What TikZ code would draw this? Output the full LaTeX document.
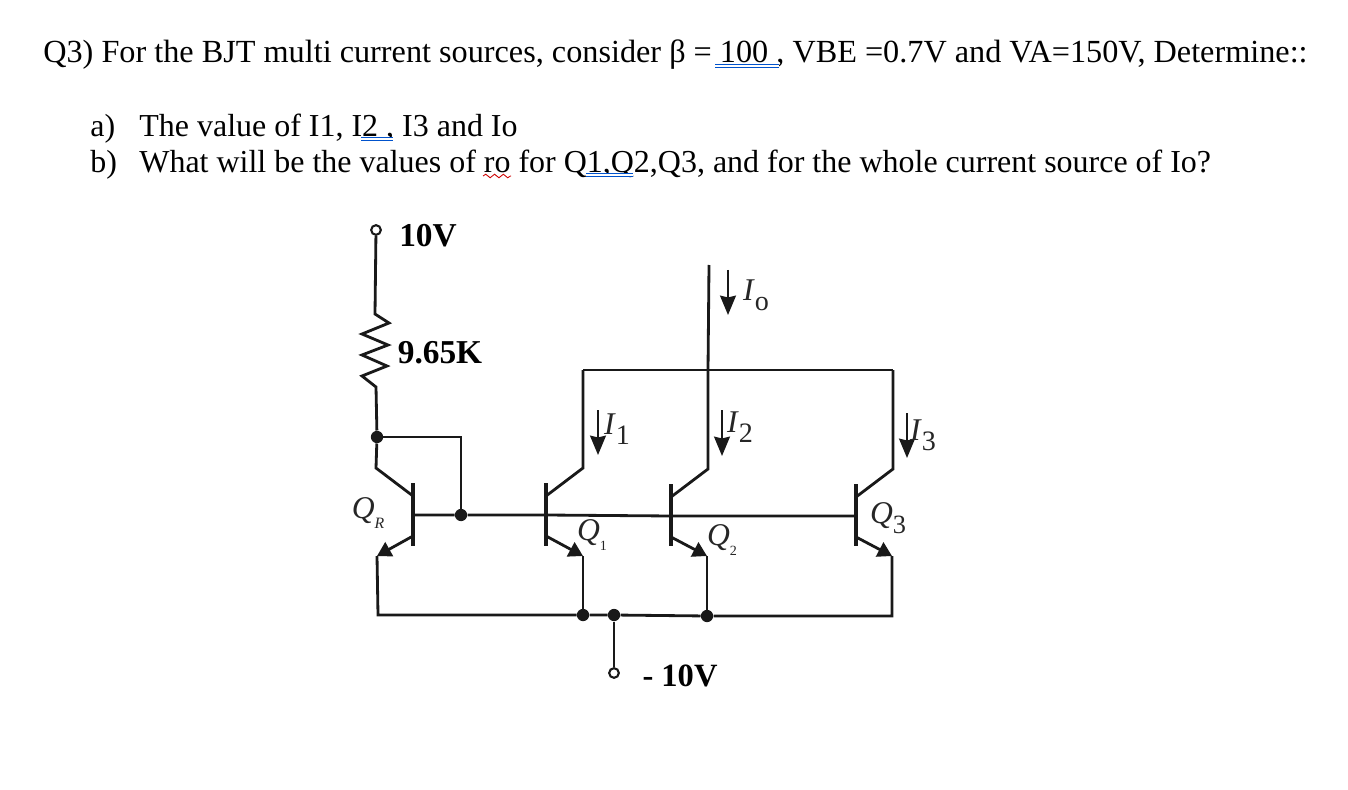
\documentclass[tikz,border=0pt]{standalone}
\usepackage{fontspec}
\setmainfont{Liberation Serif}
\usepackage{tikz}
\usetikzlibrary{arrows.meta, decorations.pathmorphing}
\tikzstyle{textline} = [anchor=base west, inner sep=0pt, font=\fontsize{18.2}{22}\selectfont]
\tikzstyle{valuelabel} = [inner sep=0pt, font=\fontsize{19}{22}\selectfont\bfseries]
\tikzstyle{curlabel} = [inner sep=0pt, font=\fontsize{18}{22}\selectfont, text=black!85]
\tikzstyle{dot} = [circle, fill=black!90, inner sep=0pt, minimum size=7pt]
\tikzstyle{term} = [circle, draw=black!90, fill=white, line width=1.2pt, inner sep=0pt, minimum size=5.5pt]
\tikzstyle{wire} = [line width=1.6pt, black!90, line join=miter]
\tikzstyle{bar} = [line width=2.2pt, black!90]
\tikzstyle{emitter} = [wire, -{Triangle[length=8pt,width=9pt]}]
\tikzstyle{arrow} = [line width=1.3pt, black!90, -{Stealth[length=11pt,width=9pt,inset=1pt]}]
\tikzstyle{proof} = [line width=0.6pt, blue!60!cyan!80!black, double, double distance=1pt]
\newcommand{\curname}[3]{\textit{#1}\raisebox{-0.7ex}{\fontsize{#3}{#3}\selectfont #2}}

\begin{document}
\begin{tikzpicture}[x=0.02cm, y=-0.02cm]
    \useasboundingbox (0,0) rectangle (1348,790);
    % Text
    \node (line_q) [textline, font=\fontsize{18.35}{22}\selectfont] at (43,63) {Q3) For the BJT multi current sources, consider β = 100 , VBE =0.7V and VA=150V, Determine::};
    \node (mark_a) [textline] at (90,137) {a)};
    \node (line_a) [textline] at (139,137) {The value of I1, I2 , I3 and Io};
    \node (mark_b) [textline] at (90,173) {b)};
    \node (line_b) [textline] at (139,173) {What will be the values of ro for Q1,Q2,Q3, and for the whole current source of Io?};
    % Proofing marks
    \draw [proof] (715,66) -- (779,66);
    \draw [proof] (361,139) -- (393,139);
    \draw [proof] (586,175) -- (633,175);
    \draw [red!80!black, line width=0.5pt, decorate, decoration={snake, amplitude=1pt, segment length=5pt}] (483,176) -- (511,176);
    % Nodes
    \node (top) [term] at (376,230) {};
    \node (res_top) [coordinate] at (375,314) {};
    \node (res_bot) [coordinate] at (376,387) {};
    \node (node_r) [dot] at (377,437) {};
    \node (link) [dot] at (461,515) {};
    \node (coll_r) [coordinate] at (376,468) {};
    \node (emit_r) [coordinate] at (377,556) {};
    \node (coll_1) [coordinate] at (583,468) {};
    \node (emit_1) [coordinate] at (583,556) {};
    \node (coll_2) [coordinate] at (708,469) {};
    \node (emit_2) [coordinate] at (707,556) {};
    \node (coll_3) [coordinate] at (893,469) {};
    \node (emit_3) [coordinate] at (892,556) {};
    \node (rail_1) [coordinate] at (583,370) {};
    \node (rail_2) [coordinate] at (708,370) {};
    \node (rail_3) [coordinate] at (893,370) {};
    \node (out) [coordinate] at (709,265) {};
    \node (gnd_r) [coordinate] at (378,615) {};
    \node (gnd_1) [dot] at (583,615) {};
    \node (gnd_m) [dot] at (614,615) {};
    \node (gnd_2) [dot] at (707,616) {};
    \node (gnd_3) [coordinate] at (892,616) {};
    \node (bottom) [term] at (614,673) {};
    % Transistor bars
    \node (bar_r) [coordinate] at (413,515) {};
    \node (bar_1) [coordinate] at (546,515) {};
    \node (bar_2) [coordinate] at (671,516) {};
    \node (bar_3) [coordinate] at (856,516) {};
    \draw [bar] ([yshift=0.64cm]bar_r) -- ([yshift=-0.62cm]bar_r);
    \draw [bar] ([yshift=0.64cm]bar_1) -- ([yshift=-0.62cm]bar_1);
    \draw [bar] ([yshift=0.64cm]bar_2) -- ([yshift=-0.6cm]bar_2);
    \draw [bar] ([yshift=0.64cm]bar_3) -- ([yshift=-0.6cm]bar_3);
    % Wires
    \draw [wire] (top) -- (res_top) -- (389,323) -- (362,334) -- (388,345) -- (362,355) -- (387,366) -- (362,376) -- (res_bot) -- (node_r);
    \draw [wire] (node_r) -- (coll_r) -- ([yshift=0.38cm]bar_r);
    \draw [wire] (node_r.center) -| (link.center);
    \draw [wire] (bar_r) -- (link) -- (bar_1) -- (bar_2) -- (bar_3);
    \draw [wire] (rail_1) -- (rail_2) -- (rail_3);
    \draw [wire] (out) -- (rail_2) -- (coll_2) -- ([yshift=0.38cm]bar_2);
    \draw [wire] (rail_1) -- (coll_1) -- ([yshift=0.38cm]bar_1);
    \draw [wire] (rail_3) -- (coll_3) -- ([yshift=0.38cm]bar_3);
    \draw [emitter] ([yshift=-0.42cm]bar_r) -- (emit_r);
    \draw [emitter] ([yshift=-0.42cm]bar_1) -- (emit_1);
    \draw [emitter] ([yshift=-0.42cm]bar_2) -- (emit_2);
    \draw [emitter] ([yshift=-0.42cm]bar_3) -- (emit_3);
    \draw [wire] (emit_r) -- (gnd_r) -- (gnd_1) -- (gnd_m) -- (gnd_2) -- (gnd_3) -- (emit_3);
    \draw [wire] (emit_1) -- (gnd_1);
    \draw [wire] (emit_2) -- (gnd_2);
    \draw [wire] (gnd_m) -- (bottom);
    % Current arrows
    \node (i1_top) [coordinate] at (598,410) {};
    \node (i1_tip) [coordinate] at (598,455) {};
    \node (i2_top) [coordinate] at (722,410) {};
    \node (i2_tip) [coordinate] at (722,456) {};
    \node (i3_top) [coordinate] at (907,413) {};
    \node (i3_tip) [coordinate] at (907,458) {};
    \node (io_top) [coordinate] at (728,270) {};
    \node (io_tip) [coordinate] at (728,315) {};
    \draw [arrow] (i1_top) -- (i1_tip);
    \draw [arrow] (i2_top) -- (i2_tip);
    \draw [arrow] (i3_top) -- (i3_tip);
    \draw [arrow] (io_top) -- (io_tip);
    % Labels
    \node (lab_top) [valuelabel] at (428,236) {10V};
    \node (lab_res) [valuelabel] at (440,353) {9.65K};
    \node (lab_bot) [valuelabel, font=\fontsize{18.5}{22}\selectfont\bfseries] at (680,676) {- 10V};
    \node (lab_i1) [curlabel] at (617,429) {\curname{I}{1}{16}};
    \node (lab_i2) [curlabel] at (740,427) {\curname{I}{2}{16}};
    \node (lab_i3) [curlabel] at (923,435) {\curname{I}{3}{16}};
    \node (lab_io) [curlabel] at (756,295) {\curname{I}{o}{16}};
    \node (lab_qr) [curlabel] at (368,513) {\curname{Q}{\textit{R}}{9}};
    \node (lab_q1) [curlabel] at (592,535) {\curname{Q}{1}{8}};
    \node (lab_q2) [curlabel] at (722,540) {\curname{Q}{2}{8}};
    \node (lab_q3) [curlabel] at (888,518) {\curname{Q}{3}{15}};
\end{tikzpicture}
\end{document}
